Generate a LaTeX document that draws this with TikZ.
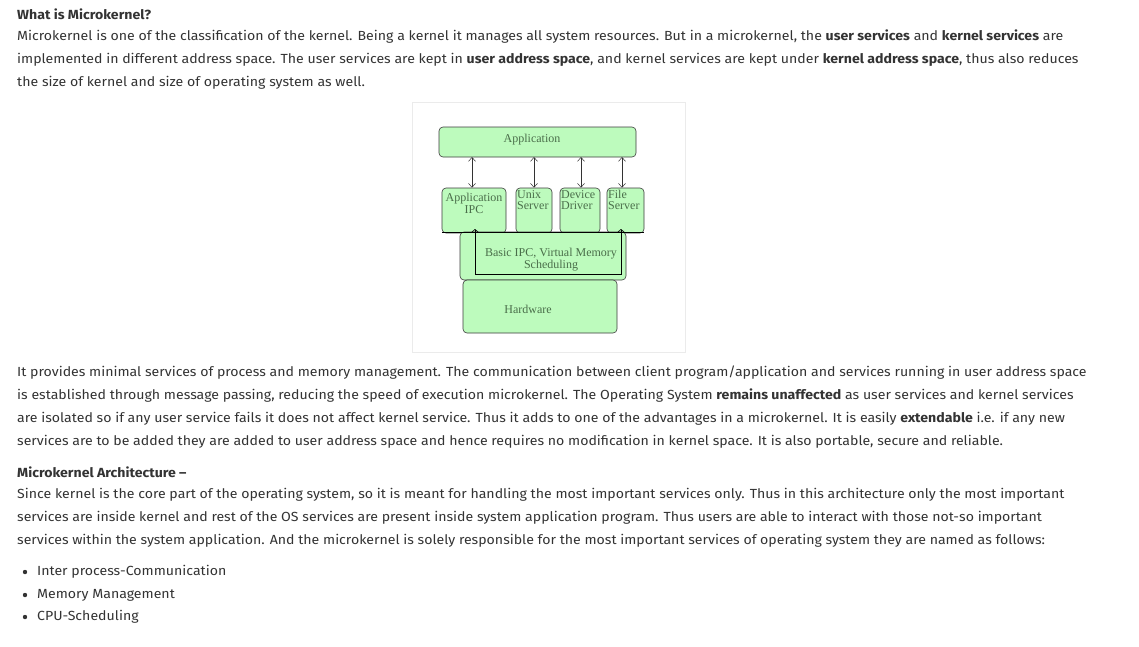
\documentclass[tikz,border=0pt]{standalone}
\usepackage{fontspec}
\setmainfont[FakeStretch=1.07]{Fira Sans}
\newfontfamily\dserif{Liberation Serif}
\usetikzlibrary{arrows.meta}
\definecolor{txt}{HTML}{333333}
\definecolor{boxg}{HTML}{BDFBBD}
\definecolor{boxd}{HTML}{3C3C3C}
\definecolor{dtext}{HTML}{4A6E4A}
\begin{document}
\begin{tikzpicture}[x=1pt,y=-1pt,
  line/.style={anchor=west,inner sep=0pt,text=txt,font=\fontsize{13.2}{14}\selectfont},
  bx/.style={draw=boxd,fill=boxg,rounded corners=4pt,line width=0.6pt},
  lbl/.style={font=\dserif\fontsize{12}{12}\selectfont,text=dtext,align=center,inner sep=0pt},
  arr/.style={{Straight Barb[length=4pt,width=7pt]}-{Straight Barb[length=4pt,width=7pt]},line width=0.5pt,draw=black!80}]
\useasboundingbox (0,0) rectangle (1139,646);
\fill[white] (0,0) rectangle (1139,646);
\node[line] (l1) at (17,14) {\textbf{What is Microkernel?}};
\node[line] (l2) at (17,37) {Microkernel is one of the classification of the kernel. Being a kernel it manages all system resources. But in a microkernel, the \textbf{user services} and \textbf{kernel services} are};
\node[line] (l3) at (17,60) {implemented in different address space. The user services are kept in \textbf{user address space}, and kernel services are kept under \textbf{kernel address space}, thus also reduces};
\node[line] (l4) at (17,83) {the size of kernel and size of operating system as well.};
% diagram
\draw[black!8,fill=white] (412,102) rectangle (685,352);
\node[bx,minimum width=197,minimum height=30] (app) at (537.5,142) {};
\node[lbl] at (532,140) {Application};
\node[bx,minimum width=64,minimum height=45] (aipc) at (474,210.5) {};
\node[bx,minimum width=36,minimum height=45] (unix) at (534,210.5) {};
\node[bx,minimum width=40,minimum height=45] (dev) at (580,210.5) {};
\node[bx,minimum width=37,minimum height=45] (file) at (625.5,210.5) {};
\node[bx,minimum width=166,minimum height=48] (basic) at (543,256) {};
\node[bx,minimum width=154,minimum height=53] (hw) at (540,306.5) {};
\node[lbl] at (474,203) {Application\\IPC};
\node[lbl,anchor=north west] at (517,190) {\parbox{40pt}{\raggedright Unix\\[-1pt]Server}};
\node[lbl,anchor=north west] at (561,190) {\parbox{40pt}{\raggedright Device\\[-1pt]Driver}};
\node[lbl,anchor=north west] at (608,190) {\parbox{40pt}{\raggedright File\\[-1pt]Server}};
\node[lbl] at (551,260) {Basic IPC, Virtual Memory\\Scheduling};
\node[lbl] at (528,309) {Hardware};
\foreach \xx/\n in {472/aipc,534/unix,581/dev,622/file}{
  \draw[arr] (\xx,157) -- (\n.north -| \xx,0);
}
\draw[line width=0.6pt] (442,232.5) -- (644,232.5);
\coordinate (c1) at (475,229);
\coordinate (c2) at (621,229);
\draw[line width=0.6pt,{Straight Barb[length=3pt,width=7pt]}-{Straight Barb[length=3pt,width=7pt]}] (c1) -- (475,274) -- (621,274) -- (c2);
% text
\node[line] at (17,373) {It provides minimal services of process and memory management. The communication between client program/application and services running in user address space};
\node[line] at (17,396) {is established through message passing, reducing the speed of execution microkernel. The Operating System \textbf{remains unaffected} as user services and kernel services};
\node[line] at (17,419) {are isolated so if any user service fails it does not affect kernel service. Thus it adds to one of the advantages in a microkernel. It is easily \textbf{extendable} i.e. if any new};
\node[line] at (17,442) {services are to be added they are added to user address space and hence requires no modification in kernel space. It is also portable, secure and reliable.};
\node[line] at (17,472) {\textbf{Microkernel Architecture –}};
\node[line] at (17,495) {Since kernel is the core part of the operating system, so it is meant for handling the most important services only. Thus in this architecture only the most important};
\node[line] at (17,518) {services are inside kernel and rest of the OS services are present inside system application program. Thus users are able to interact with those not-so important};
\node[line] at (17,541) {services within the system application. And the microkernel is solely responsible for the most important services of operating system they are named as follows:};
\foreach \yy/\t in {572/Inter process-Communication,595/Memory Management,617/CPU-Scheduling}{
  \fill[txt] (25,\yy) circle (2.2);
  \node[line] at (37,\yy) {\t};
}
\end{tikzpicture}
\end{document}
